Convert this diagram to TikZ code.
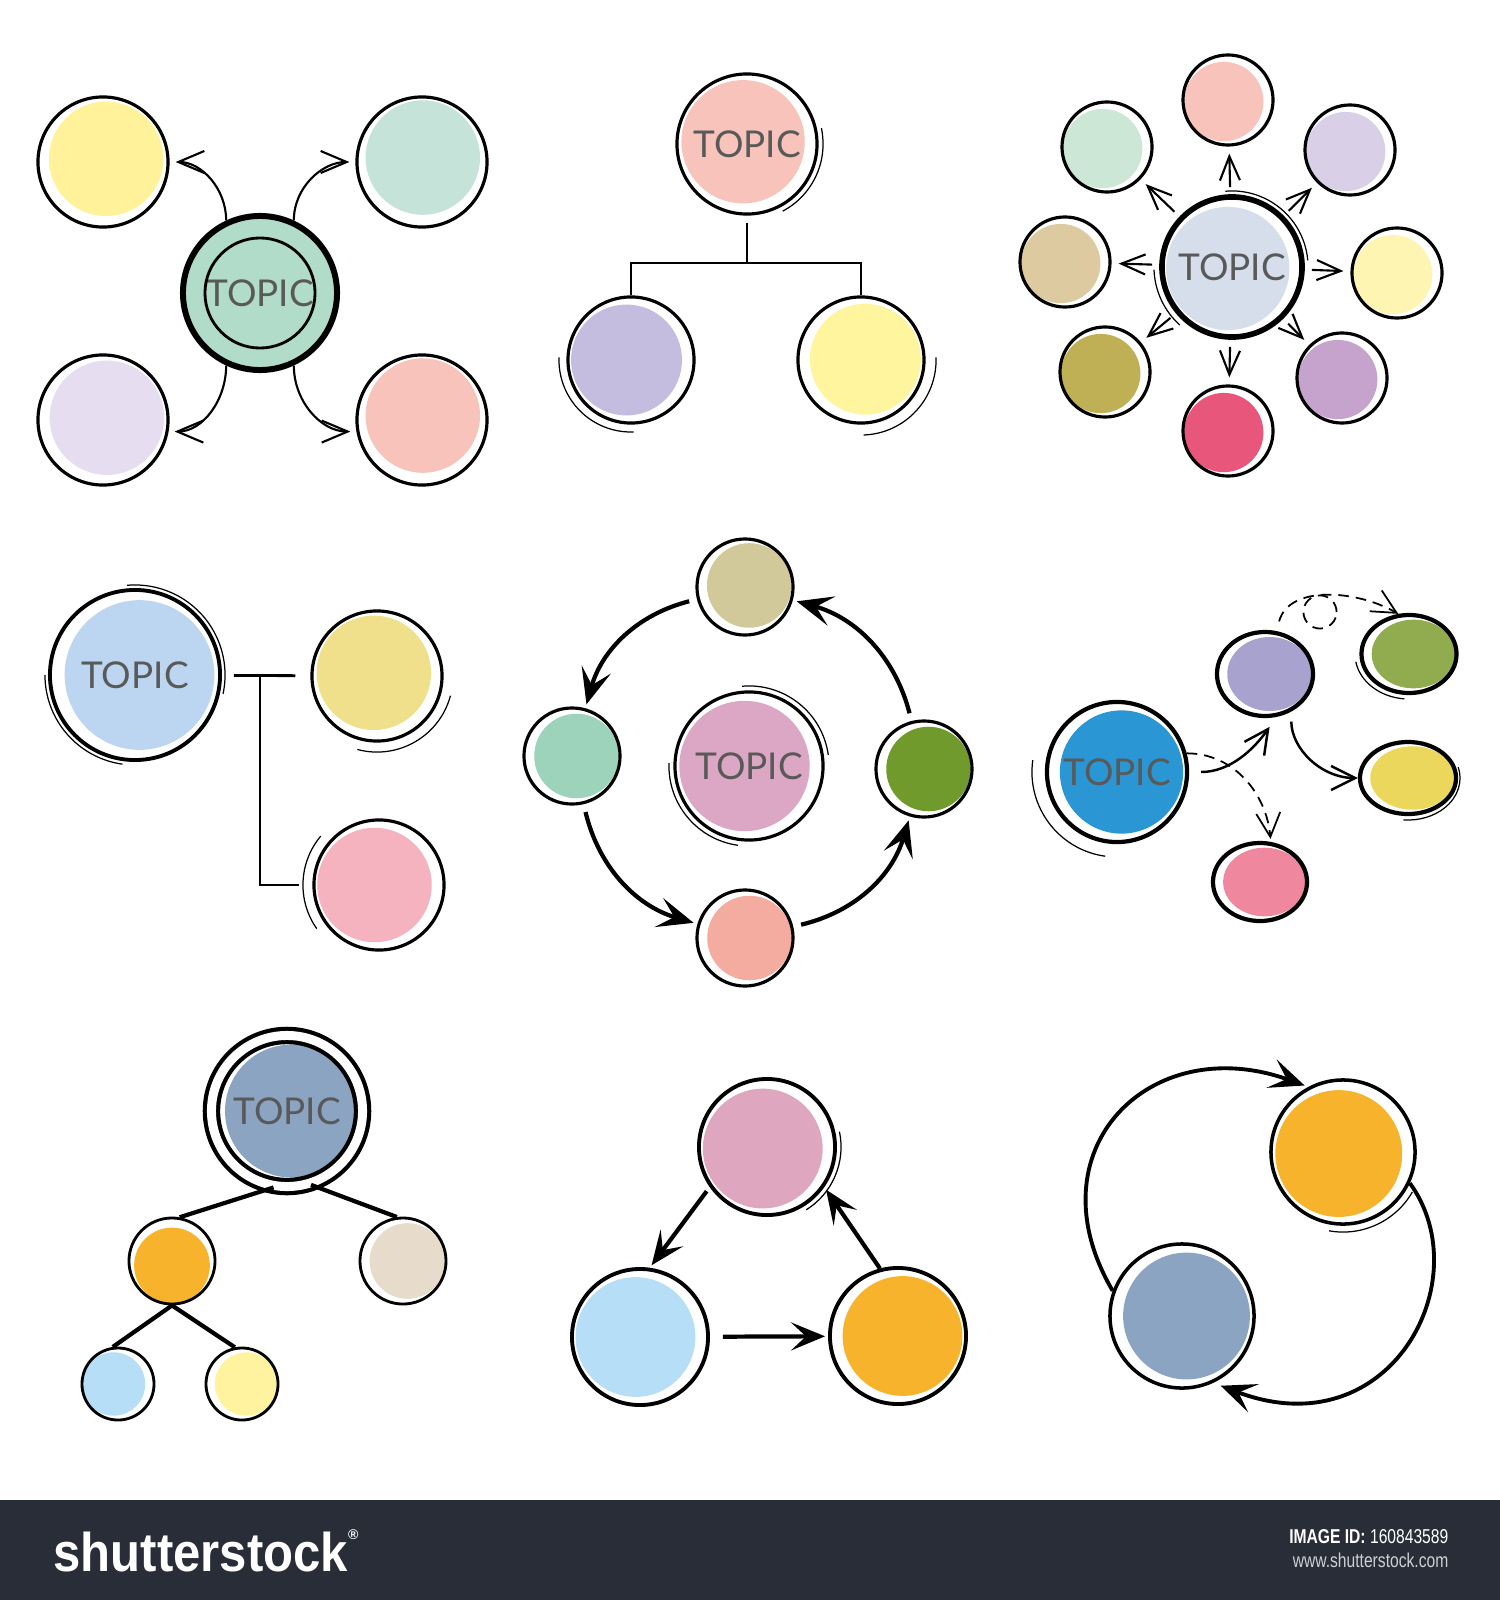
\documentclass[tikz,border=0pt]{standalone}
\usepackage{fontspec}
\setsansfont{Lato}
\newfontfamily\footfont{Liberation Sans}
\usetikzlibrary{arrows.meta,calc,shapes.geometric}

\definecolor{yelA}{HTML}{FFF29A}
\definecolor{tealA}{HTML}{C6E3DA}
\definecolor{lavA}{HTML}{E6DEF0}
\definecolor{salA}{HTML}{F8C3BA}
\definecolor{mintA}{HTML}{B1DCC9}
\definecolor{lavB}{HTML}{C5BDDF}
\definecolor{yelB}{HTML}{FFF59F}
\definecolor{greyC}{HTML}{D7DEEB}
\definecolor{lavC}{HTML}{D9D0E8}
\definecolor{yelC}{HTML}{FFF5B3}
\definecolor{purC}{HTML}{C6A3CD}
\definecolor{redC}{HTML}{E8567B}
\definecolor{oliveC}{HTML}{BFAF55}
\definecolor{tanC}{HTML}{DDCAA0}
\definecolor{mintC}{HTML}{CCE7D6}
\definecolor{blueD}{HTML}{BCD5F0}
\definecolor{yelD}{HTML}{F0E08B}
\definecolor{pinkD}{HTML}{F5B3BF}
\definecolor{tanE}{HTML}{D1C999}
\definecolor{mintE}{HTML}{9DD2BB}
\definecolor{greenE}{HTML}{719A2C}
\definecolor{salE}{HTML}{F5ACA0}
\definecolor{pinkE}{HTML}{DCA7C5}
\definecolor{blueF}{HTML}{2A96D4}
\definecolor{lavF}{HTML}{A7A2CE}
\definecolor{greenF}{HTML}{90AC4E}
\definecolor{yelF}{HTML}{EAD75C}
\definecolor{pinkF}{HTML}{EF889F}
\definecolor{slateG}{HTML}{8AA4C1}
\definecolor{orangeG}{HTML}{F8B32C}
\definecolor{beigeG}{HTML}{E7DCCB}
\definecolor{skyG}{HTML}{B6DEF6}
\definecolor{yelG}{HTML}{FFF39F}
\definecolor{pinkH}{HTML}{DEA7BF}
\definecolor{footbg}{HTML}{282D38}
\definecolor{footgrey}{HTML}{CDD0D5}

\tikzset{
  tint/.style 2 args={path picture={\fill[#1] let \p1=(path picture bounding box.north east),
      \p2=(path picture bounding box.center) in
      ($(\p2)+(#2:0.45mm)$) ellipse ({0.88*(\x1-\x2)} and {0.88*(\y1-\y2)});}},
  topic/.style={font=\sffamily\fontsize{10.5}{11}\selectfont,text=black!65,inner sep=0pt},
  sketch/.style={line width=0.35pt},
}

\begin{document}
\begin{tikzpicture}[x=0.01cm,y=-0.01cm]
  \useasboundingbox (0,0) rectangle (1500,1600);
  \fill[white] (0,0) rectangle (1500,1500);
  \fill[footbg] (0,1500) rectangle (1500,1600);

  \begin{scope}[every node/.style={circle,draw,line width=0.9pt,fill=white,minimum size=1.3cm}]
    \node[fill=mintA,line width=1.7pt,minimum size=1.54cm,topic] (a0) at (260,293) {TOPIC};
    \node[fill=none,line width=0.8pt,minimum size=1.1cm] (a0r) at (260,293) {};
    \node[tint={yelA}{45}] (a1) at (103,162) {};
    \node[tint={tealA}{80}] (a2) at (422,162) {};
    \node[tint={lavA}{30}] (a3) at (103,420) {};
    \node[tint={salA}{80}] (a4) at (422,420) {};
  \end{scope}
  \begin{scope}[>={Straight Barb[length=2.6mm,width=2.2mm]},
      every edge/.style={draw,->,line width=0.6pt,shorten >=0.6mm}]
    \path (a0.115) edge[out=90,in=0] (a1.east);
    \path (a0.65) edge[out=90,in=180] (a2.west);
    \path (a0.245) edge[out=270,in=0] (a3.-10);
    \path (a0.295) edge[out=270,in=180] (a4.190);
  \end{scope}

  \begin{scope}[every node/.style={circle,draw,line width=0.9pt,fill=white,minimum size=1.26cm}]
    \node[tint={salA}{150},minimum size=1.4cm,topic] (b0) at (747,144) {TOPIC};
    \node[tint={lavB}{180}] (b1) at (631,360) {};
    \node[tint={yelB}{10}] (b2) at (861,360) {};
  \end{scope}
  \coordinate (bj) at (747,263);
  \draw[line width=0.8pt,shorten <=0.7mm] (b0) -- (bj);
  \draw[line width=0.8pt] (b1.north) |- (bj) -| (b2.north);
  \draw[sketch] ([shift={(12:0.76cm)}]b0.center) arc[start angle=12,end angle=-62,radius=0.76cm]
    ([shift={(178:0.72cm)}]b1.center) arc[start angle=178,end angle=272,radius=0.72cm]
    ([shift={(2:0.75cm)}]b2.center) arc[start angle=2,end angle=-88,radius=0.75cm];

  \begin{scope}[every node/.style={circle,draw,line width=0.9pt,fill=white,minimum size=0.9cm}]
    \node[tint={greyC}{200},line width=1.6pt,minimum size=1.4cm,topic] (c0) at (1232,267) {TOPIC};
    \node[tint={salA}{200}] (c1) at (1228,100) {};
    \node[tint={lavC}{200}] (c2) at (1350,150) {};
    \node[tint={yelC}{200}] (c3) at (1397,273) {};
    \node[tint={purC}{200}] (c4) at (1342,378) {};
    \node[tint={redC}{200}] (c5) at (1228,431) {};
    \node[tint={oliveC}{200}] (c6) at (1105,372) {};
    \node[tint={tanC}{200}] (c7) at (1065,262) {};
    \node[tint={mintC}{200}] (c8) at (1107,147) {};
  \end{scope}
  \draw[sketch] ([shift={(95:0.76cm)}]c0.center) arc[start angle=95,end angle=5,radius=0.76cm]
    ([shift={(182:0.78cm)}]c0.center) arc[start angle=182,end angle=228,radius=0.78cm];
  \begin{scope}[>={Straight Barb[length=2.4mm,width=2mm]},
      every edge/.style={draw,->,line width=0.6pt,shorten <=0.7mm,shorten >=0.7mm}]
    \path (c0) edge (c1);
    \path (c0) edge (c2);
    \path (c0) edge (c3);
    \path (c0) edge (c4);
    \path (c0) edge (c5);
    \path (c0) edge (c6);
    \path (c0) edge (c7);
    \path (c0) edge (c8);
  \end{scope}

  \begin{scope}[every node/.style={circle,draw,line width=0.9pt,fill=white,minimum size=1.3cm}]
    \node[tint={blueD}{0},line width=1.1pt,minimum size=1.7cm,topic] (d0) at (135,675) {TOPIC};
    \node[tint={yelD}{135}] (d1) at (377,676) {};
    \node[tint={pinkD}{180}] (d2) at (379,885) {};
  \end{scope}
  \coordinate (dj) at (260,675);
  \draw[line width=0.8pt,shorten <=1.2mm,shorten >=1.5mm] (d0) -- (d1);
  \draw[line width=0.8pt,shorten >=1.3mm] (dj) |- (d2);
  \draw[sketch] ([shift={(95:0.9cm)}]d0.center) arc[start angle=95,end angle=-12,radius=0.9cm]
    ([shift={(180:0.9cm)}]d0.center) arc[start angle=180,end angle=262,radius=0.9cm]
    ([shift={(-15:0.76cm)}]d1.center) arc[start angle=-15,end angle=-105,radius=0.76cm]
    ([shift={(140:0.76cm)}]d2.center) arc[start angle=140,end angle=215,radius=0.76cm];

  \begin{scope}[every node/.style={circle,draw,line width=0.9pt,fill=white,minimum size=0.96cm}]
    \node[tint={pinkE}{180},minimum size=1.48cm,topic] (e0) at (749,766) {TOPIC};
    \node[tint={tanE}{20}] (e1) at (745,587) {};
    \node[tint={mintE}{0}] (e2) at (572,756) {};
    \node[tint={greenE}{0}] (e3) at (924,769) {};
    \node[tint={salE}{0}] (e4) at (745,938) {};
  \end{scope}
  \draw[sketch] ([shift={(95:0.8cm)}]e0.center) arc[start angle=95,end angle=8,radius=0.8cm]
    ([shift={(178:0.8cm)}]e0.center) arc[start angle=178,end angle=262,radius=0.8cm];
  \begin{scope}[>={Stealth[length=3.6mm,width=3mm,inset=1.6mm]},
      every edge/.style={draw,->,line width=1.2pt,shorten <=0.8mm,shorten >=0.4mm}]
    \path (e1) edge[bend right=30] (e2);
    \path (e2) edge[bend right=30] (e4);
    \path (e4) edge[bend right=30] (e3);
    \path (e3) edge[bend right=30] (e1);
  \end{scope}

  \begin{scope}[every node/.style={ellipse,draw,line width=1.2pt,fill=white}]
    \node[circle,tint={blueF}{0},minimum size=1.4cm,topic] (f0) at (1117,772) {TOPIC};
    \node[tint={lavF}{0},minimum width=0.96cm,minimum height=0.84cm] (f1) at (1265,674) {};
    \node[tint={greenF}{0},minimum width=0.95cm,minimum height=0.78cm] (f2) at (1409,654) {};
    \node[tint={pinkF}{0},minimum width=0.94cm,minimum height=0.78cm] (f3) at (1260,882) {};
    \node[tint={yelF}{0},minimum width=0.96cm,minimum height=0.72cm] (f4) at (1408,778) {};
    \node[circle,densely dashed,line width=0.5pt,fill=none,minimum size=0.25cm] (f5) at (1320,612) {};
  \end{scope}
  \draw[sketch] ([shift={(172:0.85cm)}]f0.center) arc[start angle=172,end angle=262,radius=0.85cm]
    ([shift={(190:0.54cm and 0.45cm)}]f2.center) arc[start angle=190,end angle=265,x radius=0.54cm,y radius=0.45cm]
    ([shift={(15:0.52cm and 0.42cm)}]f4.center) arc[start angle=15,end angle=-95,x radius=0.52cm,y radius=0.42cm];
  \begin{scope}[>={Straight Barb[length=2.4mm,width=2.4mm]},
      every edge/.style={draw,->,line width=0.7pt}]
    \path (f0.east) edge[out=0,in=235,shorten <=1.2mm,shorten >=1.2mm] (f1.-75);
    \path (f0.15) edge[out=0,in=95,densely dashed,line width=0.5pt,shorten >=0.3mm] (f3.75);
    \path (f1.-55) edge[out=270,in=180,shorten <=1mm] (f4.west);
    \path (f1.75) edge[out=75,in=150,densely dashed,line width=0.5pt,shorten <=1mm] (f2.105);
  \end{scope}

  \begin{scope}[every node/.style={circle,draw,line width=0.8pt,fill=white,minimum size=0.86cm}]
    \node[tint={slateG}{0},line width=1.2pt,double=white,double distance=0.09cm,minimum size=1.51cm,topic] (g0) at (287,1111) {TOPIC};
    \node[tint={orangeG}{270}] (g1) at (172,1261) {};
    \node[tint={beigeG}{0}] (g2) at (403,1261) {};
    \node[tint={skyG}{180},minimum size=0.72cm] (g3) at (118,1384) {};
    \node[tint={yelG}{0},minimum size=0.72cm] (g4) at (242,1384) {};
  \end{scope}
  \draw[line width=1.2pt] (g0.260) -- (g1.80);
  \draw[line width=1.2pt] (g0.288) -- (g2.98);
  \draw[line width=1.2pt] (g1.south) -- (g3.98);
  \draw[line width=1.2pt] (g1.south) -- (g4.101);

  \begin{scope}[every node/.style={circle,draw,line width=1.1pt,fill=white,minimum size=1.36cm}]
    \node[tint={pinkH}{200}] (h0) at (767,1147) {};
    \node[tint={skyG}{180}] (h1) at (640,1337) {};
    \node[tint={orangeG}{0}] (h2) at (898,1336) {};
  \end{scope}
  \draw[sketch] ([shift={(12:0.74cm)}]h0.center) arc[start angle=12,end angle=-58,radius=0.74cm];
  \begin{scope}[>={Stealth[length=3.4mm,width=2.8mm,inset=1.5mm]},
      every edge/.style={draw,->,line width=1.2pt,shorten >=0.3mm}]
    \path (h0.215) edge[shorten <=0.5mm] (h1.82);
    \path (h2.105) edge (h0.-35);
    \path (h1) edge[shorten <=1.3mm] (h2);
  \end{scope}

  \begin{scope}[every node/.style={circle,draw,line width=1pt,fill=white,minimum size=1.44cm}]
    \node[tint={orangeG}{200}] (i0) at (1343,1152) {};
    \node[tint={slateG}{0}] (i1) at (1182,1316) {};
  \end{scope}
  \draw[sketch] ([shift={(-30:0.8cm)}]i0.center) arc[start angle=-30,end angle=-100,radius=0.8cm];
  \begin{scope}[>={Stealth[length=3.5mm,width=3mm,inset=1.6mm]}]
    \draw[->,line width=1.1pt,shorten >=0.4mm] (i1.160) .. controls (1030,1150) and (1150,1030) .. (i0.118);
    \draw[->,line width=1.1pt,shorten >=0.8mm] (i0.-25) .. controls (1480,1280) and (1390,1450) .. (i1.-65);
  \end{scope}

  \node[anchor=base west,inner sep=0pt,text=white,font=\footfont\bfseries\fontsize{15.5}{16}\selectfont] (logo) at (53,1571)
    {\scalebox{0.9}[1]{shutterstock}\raisebox{1.1ex}{\fontsize{4}{4}\selectfont ®}};
  \node[anchor=base east,inner sep=0pt,text=white,font=\footfont\fontsize{5.7}{6}\selectfont] (imgid) at (1449,1543)
    {\scalebox{0.78}[1]{\textbf{IMAGE ID:} 160843589}};
  \node[anchor=base east,inner sep=0pt,text=footgrey,font=\footfont\fontsize{5.7}{6}\selectfont] (url) at (1449,1567)
    {\scalebox{0.78}[1]{www.shutterstock.com}};
\end{tikzpicture}
\end{document}
